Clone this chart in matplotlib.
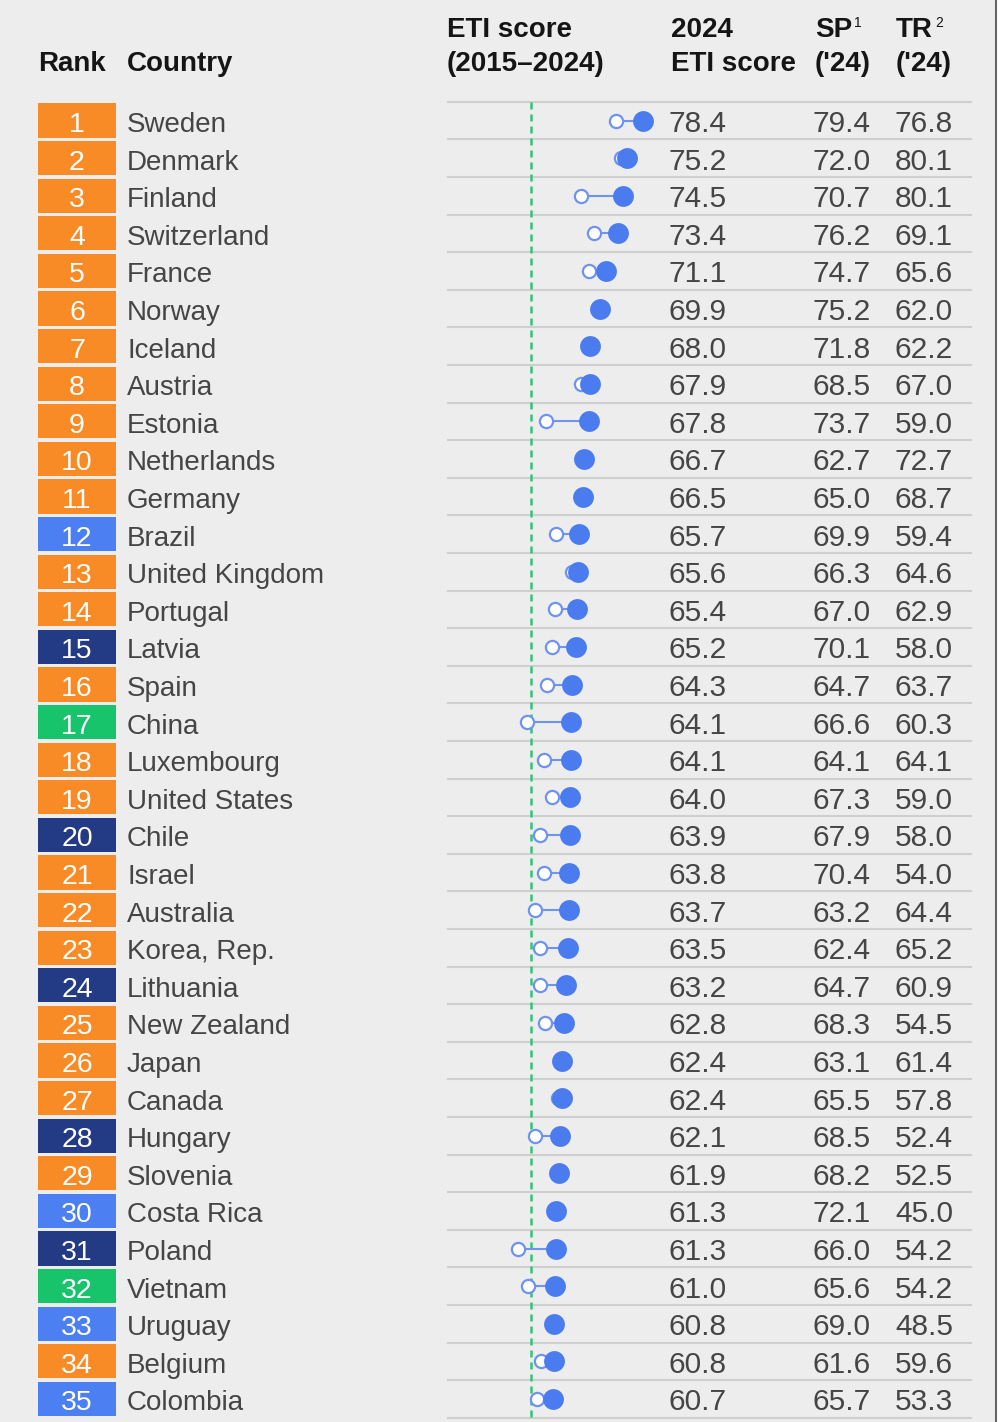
import matplotlib
matplotlib.use("Agg")
import matplotlib.pyplot as plt
from matplotlib.patches import Rectangle

# ---------------- data ----------------
ranks = list(range(1, 36))
countries = ["Sweden", "Denmark", "Finland", "Switzerland", "France", "Norway", "Iceland",
             "Austria", "Estonia", "Netherlands", "Germany", "Brazil", "United Kingdom",
             "Portugal", "Latvia", "Spain", "China", "Luxembourg", "United States", "Chile",
             "Israel", "Australia", "Korea, Rep.", "Lithuania", "New Zealand", "Japan",
             "Canada", "Hungary", "Slovenia", "Costa Rica", "Poland", "Vietnam", "Uruguay",
             "Belgium", "Colombia"]
groups = ["adv", "adv", "adv", "adv", "adv", "adv", "adv", "adv", "adv", "adv", "adv",
          "latam", "adv", "adv", "eur", "adv", "asia", "adv", "adv", "eur",
          "adv", "adv", "adv", "eur", "adv", "adv", "adv", "eur", "adv", "latam",
          "eur", "asia", "latam", "adv", "latam"]
eti_2024 = [78.4, 75.2, 74.5, 73.4, 71.1, 69.9, 68.0, 67.9, 67.8, 66.7, 66.5, 65.7, 65.6,
            65.4, 65.2, 64.3, 64.1, 64.1, 64.0, 63.9, 63.8, 63.7, 63.5, 63.2, 62.8, 62.4,
            62.4, 62.1, 61.9, 61.3, 61.3, 61.0, 60.8, 60.8, 60.7]
eti_2015 = [73.1, 74.0, 66.2, 68.8, 67.7, 69.7, 67.8, 66.1, 59.3, 66.5, 66.3, 61.3, 64.4,
            61.1, 60.5, 59.5, 55.5, 58.8, 60.4, 58.1, 58.9, 57.1, 58.0, 58.1, 59.1, 62.0,
            61.6, 57.0, 61.7, 61.1, 53.7, 55.7, 60.6, 58.2, 57.5]
sp_2024 = [79.4, 72.0, 70.7, 76.2, 74.7, 75.2, 71.8, 68.5, 73.7, 62.7, 65.0, 69.9, 66.3,
           67.0, 70.1, 64.7, 66.6, 64.1, 67.3, 67.9, 70.4, 63.2, 62.4, 64.7, 68.3, 63.1,
           65.5, 68.5, 68.2, 72.1, 66.0, 65.6, 69.0, 61.6, 65.7]
tr_2024 = [76.8, 80.1, 80.1, 69.1, 65.6, 62.0, 62.2, 67.0, 59.0, 72.7, 68.7, 59.4, 64.6,
           62.9, 58.0, 63.7, 60.3, 64.1, 59.0, 58.0, 54.0, 64.4, 65.2, 60.9, 54.5, 61.4,
           57.8, 52.4, 52.5, 45.0, 54.2, 54.2, 48.5, 59.6, 53.3]
eti_reference = 56.3
headers = [("Rank", None), ("Country", None), ("ETI score", "(2015\u20132024)"),
           ("2024", "ETI score"), ("SP", "('24)"), ("TR", "('24)")]
header_sups = [None, None, None, None, "1", "2"]

# ---------------- style ----------------
group_colors = {"adv": "#F98B26", "latam": "#4C7FF2", "eur": "#233A85", "asia": "#17C46C"}
BG = "#EDEDED"
TEXT = "#454545"
HEAD = "#151515"
DOT = "#4A7CF0"
LINE = "#6E93F0"
FONT = "Liberation Sans"
plt.rcParams["font.family"] = [FONT, "DejaVu Sans"]

W, H = 1000, 1422
fig = plt.figure(figsize=(W / 100, H / 100), dpi=100, facecolor=BG)

row0, rowh = 120.5, 37.6          # pixel centre of first row, row pitch
ytop = -row0 / rowh
ybot = (H - row0) / rowh

ax = fig.add_axes([0, 0, 1, 1])
ax.set_xlim(0, W)
ax.set_ylim(ybot, ytop)
ax.axis("off")
ax.set_facecolor(BG)

n = len(countries)
base_off = 11.5 / rowh
fs = 20
fsn = 21.5

# separators
for i in range(n + 1):
    ax.plot([447, 972], [i - 0.5, i - 0.5], color="#CFCFCF", lw=1.5, solid_capstyle="butt", zorder=1)

for i in range(n):
    ax.add_patch(Rectangle((38, i - 0.457), 78, 0.914, facecolor=group_colors[groups[i]],
                           edgecolor="none", zorder=2))
    ax.text(77, i + base_off, str(ranks[i]), color="white", fontsize=fs + 0.5, ha="center",
            va="baseline", zorder=3)
    ax.text(127, i + base_off, countries[i], color=TEXT, fontsize=fs, ha="left", va="baseline")
    ax.text(669, i + base_off, f"{eti_2024[i]:.1f}", color=TEXT, fontsize=fsn, ha="left", va="baseline")
    ax.text(813, i + base_off, f"{sp_2024[i]:.1f}", color=TEXT, fontsize=fsn, ha="left", va="baseline")
    ax.text(895, i + base_off, f"{tr_2024[i]:.1f}", color=TEXT, fontsize=fsn, ha="left", va="baseline")

# right border strip
ax.add_patch(Rectangle((997, ybot), 3, ytop - ybot, facecolor="white", edgecolor="none", zorder=5))
ax.plot([996, 996], [ybot, ytop], color="#666666", lw=1.5, zorder=6)

# headers
renderer = fig.canvas.get_renderer()
hx = [38, 127, 447, 671, 815, 896]
for x, (l1, l2), sup in zip(hx, headers, header_sups):
    if l2 is None:
        fig.text(x / W, 1 - 71 / H, l1, fontsize=fs, fontweight="bold", color=HEAD,
                 ha="left", va="baseline")
        continue
    t1 = fig.text(x / W, 1 - 37 / H, l1, fontsize=fs, fontweight="bold", color=HEAD,
                  ha="left", va="baseline")
    fig.text(x / W, 1 - 71 / H, l2, fontsize=fs, fontweight="bold", color=HEAD,
             ha="left", va="baseline")
    if sup is not None:
        bb = t1.get_window_extent(renderer=renderer)
        fig.text((bb.x1 + 2) / W, 1 - 27 / H, sup, fontsize=10, color=HEAD,
                 ha="left", va="baseline")

# dot plot axes
dx = fig.add_axes([447 / W, 0, (660 - 447) / W, 1])
dx.set_xlim(39.65, 81.8)
dx.set_ylim(ybot, ytop)
dx.axis("off")
dx.patch.set_alpha(0)

dx.plot([eti_reference, eti_reference], [-0.5, ybot], color="#35C27A", lw=1.8,
        dashes=(2.8, 2.0), zorder=1)
for i in range(n):
    dx.plot([eti_2015[i], eti_2024[i]], [i, i], color=LINE, lw=1.5, zorder=2)
dx.plot(eti_2015, list(range(n)), "o", ms=9.5, mfc="white", mec=LINE, mew=1.6, ls="none", zorder=3)
dx.plot(eti_2024, list(range(n)), "o", ms=15, mfc=DOT, mec=DOT, mew=0, ls="none", zorder=4)

fig.savefig("out.png", dpi=100, facecolor=BG)
